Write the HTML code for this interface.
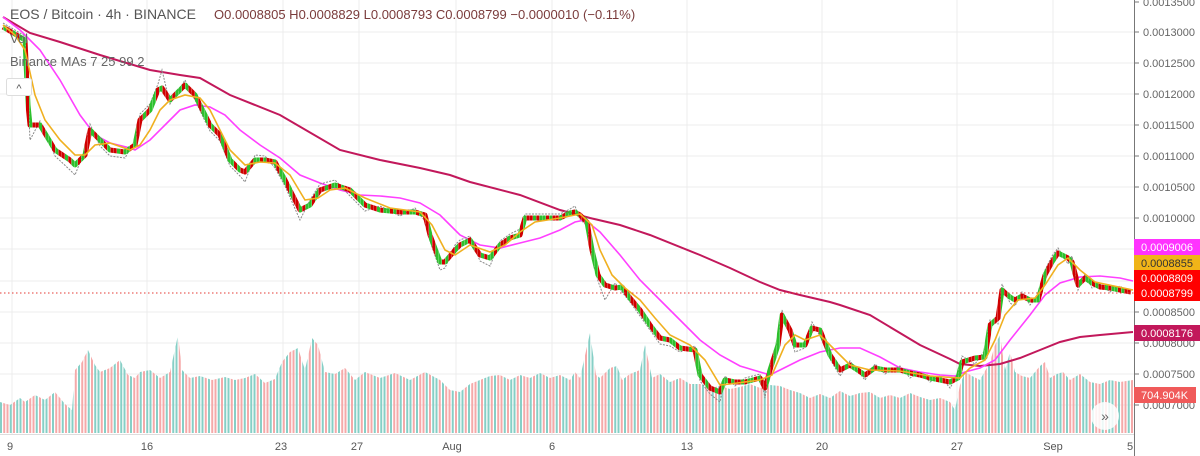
<!DOCTYPE html>
<html><head><meta charset="utf-8"><style>
html,body{margin:0;padding:0;background:#fff;}
svg{display:block;font-family:"Liberation Sans",sans-serif;}
</style></head><body>
<svg width="1200" height="456" xmlns="http://www.w3.org/2000/svg">
<defs>
<pattern id="vp" x="0" y="0" width="26" height="456" patternUnits="userSpaceOnUse">
<rect x="0" y="0" width="2" height="456" fill="#86cfc6"/>
<rect x="3.25" y="0" width="2" height="456" fill="#f5a9a9"/>
<rect x="6.5" y="0" width="2" height="456" fill="#f5a9a9"/>
<rect x="9.75" y="0" width="2" height="456" fill="#86cfc6"/>
<rect x="13" y="0" width="2" height="456" fill="#f5a9a9"/>
<rect x="16.25" y="0" width="2" height="456" fill="#86cfc6"/>
<rect x="19.5" y="0" width="2" height="456" fill="#86cfc6"/>
<rect x="22.75" y="0" width="2" height="456" fill="#f5a9a9"/>
</pattern>
<pattern id="cp" x="0" y="0" width="26" height="456" patternUnits="userSpaceOnUse">
<rect x="0" y="0" width="3" height="456" fill="#d00000"/>
<rect x="3.25" y="0" width="3" height="456" fill="#2dc02d"/>
<rect x="6.5" y="0" width="3" height="456" fill="#d00000"/>
<rect x="9.75" y="0" width="3" height="456" fill="#d00000"/>
<rect x="13" y="0" width="3" height="456" fill="#2dc02d"/>
<rect x="16.25" y="0" width="3" height="456" fill="#d00000"/>
<rect x="19.5" y="0" width="3" height="456" fill="#2dc02d"/>
<rect x="22.75" y="0" width="3" height="456" fill="#2dc02d"/>
</pattern>
</defs>
<g stroke="#ececec" stroke-width="1">
<line x1="0" x2="1134" y1="32" y2="32"/><line x1="0" x2="1134" y1="63" y2="63"/><line x1="0" x2="1134" y1="94" y2="94"/><line x1="0" x2="1134" y1="125" y2="125"/><line x1="0" x2="1134" y1="156" y2="156"/><line x1="0" x2="1134" y1="187" y2="187"/><line x1="0" x2="1134" y1="218" y2="218"/><line x1="0" x2="1134" y1="249" y2="249"/><line x1="0" x2="1134" y1="281" y2="281"/><line x1="0" x2="1134" y1="312" y2="312"/><line x1="0" x2="1134" y1="343" y2="343"/><line x1="0" x2="1134" y1="374" y2="374"/><line x1="0" x2="1134" y1="405" y2="405"/>
<line x1="12" x2="12" y1="0" y2="434"/><line x1="147" x2="147" y1="0" y2="434"/><line x1="283" x2="283" y1="0" y2="434"/><line x1="359" x2="359" y1="0" y2="434"/><line x1="456" x2="456" y1="0" y2="434"/><line x1="552" x2="552" y1="0" y2="434"/><line x1="687" x2="687" y1="0" y2="434"/><line x1="822" x2="822" y1="0" y2="434"/><line x1="957" x2="957" y1="0" y2="434"/><line x1="1053" x2="1053" y1="0" y2="434"/>
</g>
<!-- volume -->
<polygon fill="url(#vp)" points="0,433 0,402 10,405 20,398 25,402 35,395 45,400 55,392 65,404 72,410 75,370 82,362 88,350 95,365 100,372 110,368 120,360 128,375 135,378 140,372 150,370 160,378 170,372 178,335 182,370 190,378 200,376 212,380 225,377 235,380 245,378 255,374 265,383 275,379 282,362 290,352 298,348 305,370 312,338 318,345 325,372 335,374 345,368 355,380 365,372 380,378 395,373 410,380 425,372 440,380 450,390 460,392 470,384 480,380 490,376 500,375 510,380 520,375 530,378 540,373 550,378 560,375 570,380 575,372 580,378 590,333 596,375 600,378 610,368 617,366 622,380 630,374 640,370 645,345 652,378 660,374 670,382 680,378 690,384 700,384 710,388 720,386 730,389 740,387 750,384 760,388 770,385 780,386 790,390 800,393 810,398 820,394 830,398 840,391 850,396 860,393 870,392 880,398 890,395 900,398 910,393 920,397 930,400 940,398 950,402 955,410 960,385 965,372 972,376 980,380 990,362 995,345 1000,335 1005,370 1010,352 1015,372 1022,376 1030,378 1040,366 1045,362 1050,378 1057,374 1063,372 1070,380 1080,374 1090,382 1100,384 1110,380 1120,382 1133,380 1133,433"/>
<!-- MA99 -->
<polyline fill="none" stroke="#c2185b" stroke-width="2" points="3,17 30,33 60,42 100,55 150,70 180,75 200,78 230,95 280,115 340,150 380,160 420,168 450,175 470,182 520,195 560,210 590,218 620,225 650,235 700,255 730,268 760,282 780,290 800,295 830,302 840,305 870,315 900,333 920,345 935,352 950,359 960,364 980,366 1000,364 1020,358 1040,350 1060,342 1080,337 1100,335 1133,332"/>
<!-- MA25 -->
<polyline fill="none" stroke="#ff40ff" stroke-width="1.6" points="3,17 20,30 40,50 60,80 80,115 95,135 110,143 130,148 135,150 150,140 165,125 180,110 195,105 210,107 225,115 240,130 260,145 280,158 300,175 320,183 340,190 360,195 380,196 400,198 420,203 440,215 450,225 460,235 480,245 500,248 520,243 540,238 560,230 575,222 585,220 600,232 620,255 640,280 660,300 680,320 700,340 720,355 740,366 760,372 770,375 780,370 800,360 820,352 840,348 860,348 880,357 900,368 920,372 940,375 955,376 965,372 980,368 995,360 1010,340 1030,315 1045,295 1060,283 1080,277 1100,276 1120,278 1133,281"/>
<!-- price wicks -->
<polyline fill="none" stroke="#8a8a8a" stroke-width="1" stroke-dasharray="2,1.25" points="3,23 25,36 28,95 30,140 40,121 55,156 70,170 75,175 85,150 90,124 100,146 110,156 125,158 135,140 140,114 150,104 158,84 162,70 170,104 185,80 195,100 205,121 210,131 220,141 230,166 240,176 245,182 255,155 265,156 275,168 285,186 300,220 310,200 320,184 335,180 350,196 365,211 380,206 400,216 415,208 425,221 430,241 440,270 445,268 455,245 460,240 470,236 480,261 490,266 500,241 510,234 520,229 525,214 535,214 560,214 570,209 575,206 580,219 587,226 592,256 598,281 605,300 615,283 622,292 630,302 640,316 650,330 660,344 670,346 680,352 695,346 700,381 710,394 720,402 725,376 735,386 745,378 760,374 765,398 770,366 778,340 782,310 790,336 795,352 805,348 812,322 820,336 830,359 840,376 850,361 865,380 875,364 885,374 900,366 910,378 920,372 930,382 940,376 950,388 958,374 962,356 975,364 985,350 990,320 998,324 1002,284 1010,303 1015,306 1022,292 1030,305 1038,296 1045,270 1052,256 1058,248 1068,264 1072,256 1078,290 1085,274 1092,288 1100,284 1110,292 1120,286 1131,294"/>
<!-- candle bodies -->
<polyline fill="none" stroke="url(#cp)" stroke-width="5" stroke-linejoin="round" points="3,27 25,40 28,105 30,125 40,125 55,150 70,160 75,165 85,155 90,130 100,140 110,150 125,152 135,145 140,120 150,110 158,90 162,88 170,100 185,85 195,95 205,115 210,125 220,135 230,160 240,170 245,172 255,160 265,160 275,162 285,180 300,210 310,205 320,190 335,185 350,190 365,205 380,210 400,212 415,212 425,215 430,235 440,262 445,262 455,250 460,245 470,240 480,255 490,258 500,245 510,238 520,235 525,218 535,218 560,218 570,213 575,212 580,215 587,222 592,250 598,275 605,285 615,288 622,287 630,298 640,310 650,325 660,338 670,340 680,348 695,350 700,375 710,388 720,392 725,380 735,382 745,382 760,378 765,388 770,370 778,345 782,315 790,330 795,345 805,345 812,328 820,330 830,355 840,370 850,365 865,375 875,368 885,370 900,370 910,373 920,375 930,378 940,380 950,382 958,378 962,362 975,358 985,357 990,325 998,318 1002,290 1010,297 1015,300 1022,296 1030,300 1038,300 1045,275 1052,262 1058,253 1068,258 1072,262 1078,285 1085,278 1092,283 1100,287 1110,288 1120,290 1131,292"/>
<!-- MA7 -->
<polyline fill="none" stroke="#f0b020" stroke-width="1.6" points="3,25 15,35 25,50 35,95 45,120 60,140 75,155 85,155 95,145 110,143 130,150 140,145 150,130 160,110 170,100 185,95 200,98 210,110 220,130 230,150 245,165 260,162 275,163 290,175 305,200 318,198 330,190 345,188 365,198 390,208 420,212 432,225 445,250 455,255 470,245 490,252 505,245 520,232 535,222 560,218 580,214 592,225 600,250 612,275 625,288 640,300 655,318 670,335 690,345 705,360 720,385 730,384 760,380 772,375 785,345 795,335 805,340 820,335 835,350 850,365 870,370 900,371 930,376 960,378 970,368 985,360 995,340 1005,315 1018,300 1035,298 1045,285 1058,265 1068,258 1080,270 1095,282 1133,290"/>
<line x1="0" x2="1134" y1="293" y2="293" stroke="#e53935" stroke-width="1" stroke-dasharray="1.5,2.5"/>
<line x1="1134.5" x2="1134.5" y1="0" y2="456" stroke="#777" stroke-width="1"/>
<line x1="0" x2="1134" y1="434.5" y2="434.5" stroke="#ddd" stroke-width="1"/>
<g font-size="11" fill="#666">
<text x="1143" y="6">0.0013500</text><text x="1143" y="36">0.0013000</text><text x="1143" y="67">0.0012500</text><text x="1143" y="98">0.0012000</text><text x="1143" y="129">0.0011500</text><text x="1143" y="160">0.0011000</text><text x="1143" y="191">0.0010500</text><text x="1143" y="222">0.0010000</text><text x="1143" y="316">0.0008500</text><text x="1143" y="347">0.0008000</text><text x="1143" y="378">0.0007500</text><text x="1143" y="409">0.0007000</text>
</g>
<g stroke="#777"><line x1="1134" x2="1139" y1="2" y2="2"/><line x1="1134" x2="1139" y1="32" y2="32"/><line x1="1134" x2="1139" y1="63" y2="63"/><line x1="1134" x2="1139" y1="94" y2="94"/><line x1="1134" x2="1139" y1="125" y2="125"/><line x1="1134" x2="1139" y1="156" y2="156"/><line x1="1134" x2="1139" y1="187" y2="187"/><line x1="1134" x2="1139" y1="218" y2="218"/><line x1="1134" x2="1139" y1="312" y2="312"/><line x1="1134" x2="1139" y1="343" y2="343"/><line x1="1134" x2="1139" y1="374" y2="374"/><line x1="1134" x2="1139" y1="405" y2="405"/></g>
<g font-size="11">
<rect x="1134" y="239" width="66" height="16" fill="#ff33ff"/><text x="1141" y="251" fill="#fff">0.0009006</text>
<rect x="1134" y="255" width="66" height="15" fill="#f0b418"/><text x="1141" y="267" fill="#333">0.0008855</text>
<rect x="1134" y="270" width="66" height="31" fill="#ff0000"/><text x="1141" y="282" fill="#fff">0.0008809</text><text x="1141" y="297" fill="#fff">0.0008799</text>
<rect x="1134" y="325" width="66" height="16" fill="#c2185b"/><text x="1141" y="337" fill="#fff">0.0008176</text>
<rect x="1134" y="387" width="62" height="16" fill="#f05a5a"/><text x="1141" y="399" fill="#fff">704.904K</text>
</g>
<g font-size="11" fill="#555" text-anchor="middle">
<text x="10" y="450">9</text><text x="147" y="450">16</text><text x="281" y="450">23</text><text x="357" y="450">27</text><text x="452" y="450">Aug</text><text x="552" y="450">6</text><text x="687" y="450">13</text><text x="822" y="450">20</text><text x="957" y="450">27</text><text x="1053" y="450">Sep</text><text x="1130" y="450">5</text>
</g>
<text x="10" y="19" font-size="14" fill="#555">EOS / Bitcoin · 4h · BINANCE</text>
<text x="214" y="19" font-size="13" fill="#7a3b3b">O0.0008805 H0.0008829 L0.0008793 C0.0008799 −0.0000010 (−0.11%)</text>
<text x="10" y="43" font-size="13" fill="#666">Vol</text>
<text x="10" y="66" font-size="13" fill="#666">Binance MAs 7 25 99 2</text>
<rect x="6.5" y="78.5" width="25" height="17" rx="2" fill="#fff" stroke="#ddd"/><text x="19" y="92" font-size="11" fill="#555" text-anchor="middle">^</text>
<circle cx="1105" cy="416" r="14" fill="#fff" fill-opacity="0.85"/><text x="1105" y="421" font-size="14" fill="#666" text-anchor="middle">»</text>
</svg>
</body></html>
